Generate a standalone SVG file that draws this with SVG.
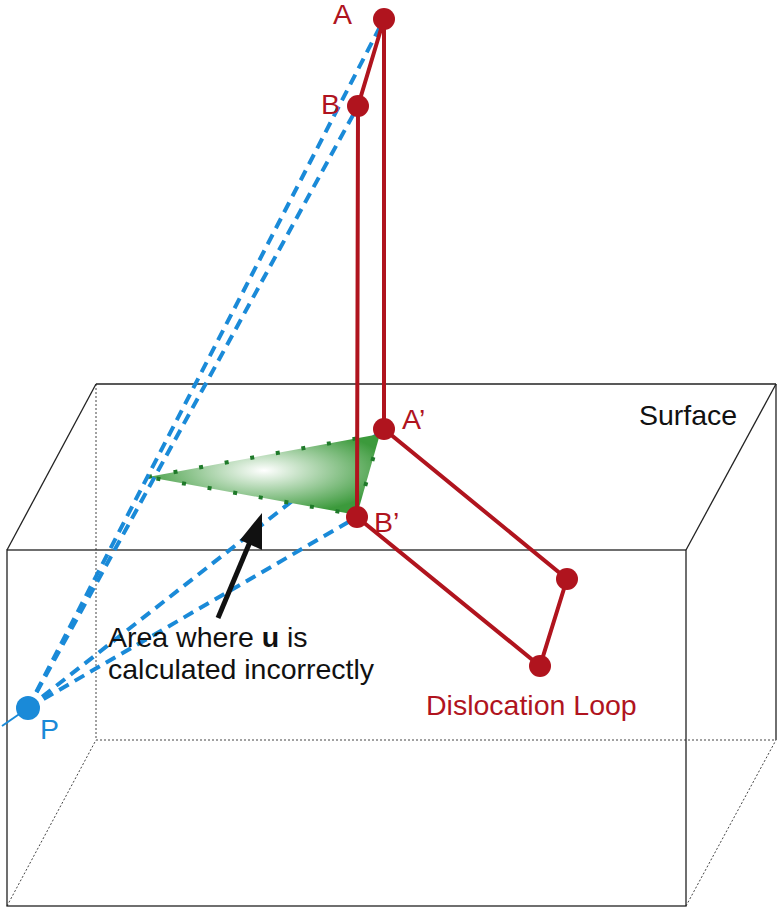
<svg xmlns="http://www.w3.org/2000/svg" width="777" height="908" viewBox="0 0 777 908">
<style>
.s{stroke:#222;stroke-width:1.3;fill:none}
.d{stroke:#444;stroke-width:1;stroke-dasharray:2 2;fill:none}
.b{stroke:#1a8ad8;stroke-width:4;stroke-dasharray:11 7;fill:none}
.r{stroke:#b0141e;stroke-width:4;fill:none}
.rn{fill:#b0141e}
.t{font-family:"Liberation Sans",Arial,sans-serif;font-size:28.5px}
</style>
<defs>
<radialGradient id="g" cx="0.5" cy="0.45" r="0.55">
<stop offset="0" stop-color="#ffffff"/><stop offset="1" stop-color="#3c9a3c"/>
</radialGradient>
</defs>
<g id="box">
<line class="d" x1="96" y1="384" x2="96" y2="740"/>
<line class="d" x1="96" y1="740" x2="776" y2="740"/>
<line class="d" x1="7" y1="906" x2="96" y2="740"/>
<line class="d" x1="686" y1="906" x2="776" y2="740"/>
<rect class="s" x="7" y="550" width="679" height="356"/>
<line class="s" x1="96" y1="384" x2="776" y2="384"/>
<line class="s" x1="7" y1="550" x2="96" y2="384"/>
<line class="s" x1="686" y1="550" x2="776" y2="384"/>
<line class="s" x1="776" y1="384" x2="776" y2="740" stroke="#888"/>
<text class="t" x="639" y="425" fill="#111">Surface</text>
</g>
<g id="connectors">
<line class="b" x1="28" y1="708" x2="384" y2="429"/>
<polygon id="area" points="148,477 380,434 357,515" fill="url(#g)" stroke="#1f7a2a" stroke-width="4" stroke-dasharray="4 22"/>
<line class="b" x1="28" y1="708" x2="384" y2="19"/>
<line class="b" x1="28" y1="708" x2="358" y2="106"/>
<line class="b" x1="28" y1="708" x2="357" y2="517"/>
<line x1="28" y1="708" x2="2" y2="726" stroke="#1a8ad8" stroke-width="2"/>
<polyline class="r" points="384,19 358,106 357,517 540,666 567,579 384,429 384,19"/>
<line x1="218" y1="618" x2="255" y2="530" stroke="#111" stroke-width="5"/>
<path d="M262,513 L262,550 L240,540 z" fill="#111"/>
</g>
<g id="A"><circle class="rn" cx="384" cy="19" r="11"/><text class="t" x="333" y="24" fill="#b0141e">A</text></g>
<g id="B"><circle class="rn" cx="358" cy="106" r="11"/><text class="t" x="321" y="114" fill="#b0141e">B</text></g>
<g id="Ap"><circle class="rn" cx="384" cy="429" r="11"/><text class="t" x="402" y="429" fill="#b0141e">A’</text></g>
<g id="Bp"><circle class="rn" cx="357" cy="517" r="11"/><text class="t" x="374" y="532" fill="#b0141e">B’</text></g>
<g id="C"><circle class="rn" cx="567" cy="579" r="11"/></g>
<g id="D"><circle class="rn" cx="540" cy="666" r="11"/></g>
<g id="P"><circle fill="#1a8ad8" cx="28" cy="708" r="12"/><text class="t" x="40" y="739" fill="#1a8ad8">P</text></g>
<g id="label"><text class="t" x="108" y="647" fill="#111">Area where <tspan font-weight="bold">u</tspan> is</text>
<text class="t" x="108" y="679" fill="#111">calculated incorrectly</text></g>
<text class="t" x="426" y="715" fill="#b0141e">Dislocation Loop</text>
</svg>
